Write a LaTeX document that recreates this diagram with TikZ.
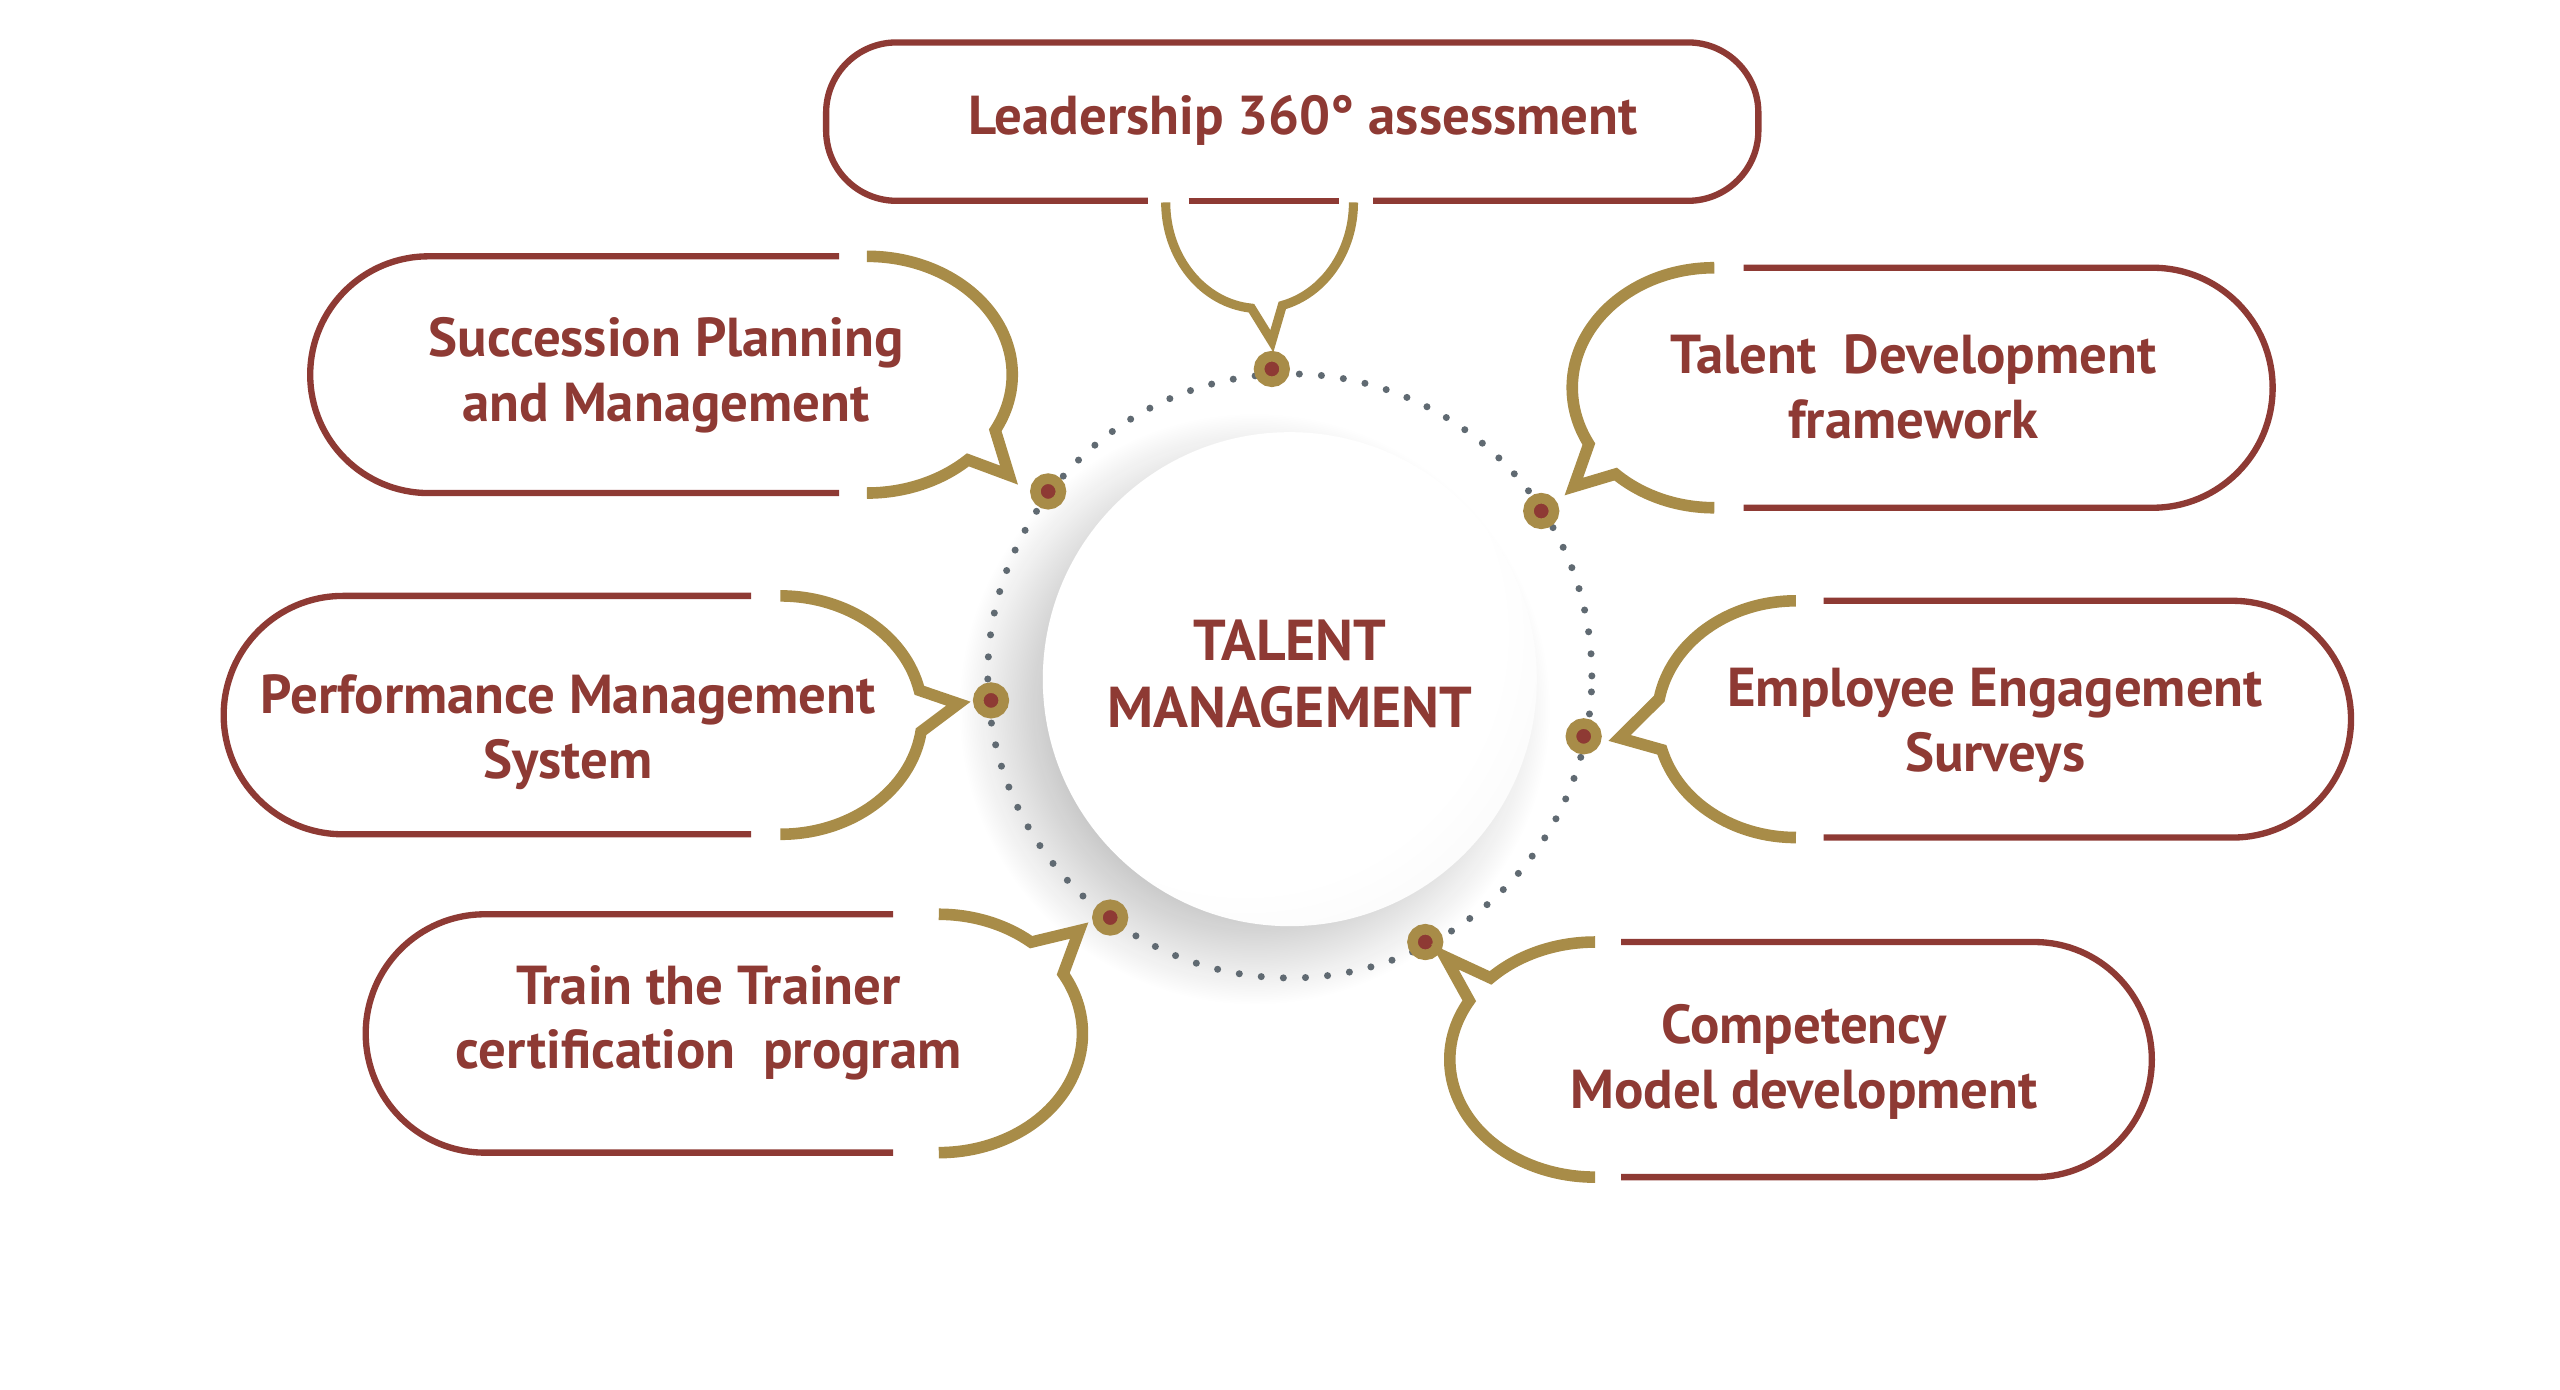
\documentclass[tikz,border=0pt]{standalone}
\usepackage{fontspec}
\setmainfont{PT Sans}
\usetikzlibrary{shadows.blur}

\definecolor{tmred}{RGB}{142,58,52}
\definecolor{tmgold}{RGB}{168,140,72}
\definecolor{tmdot}{RGB}{96,106,114}

\pgfdeclareradialshading{sphereshade}{\pgfpoint{-8bp}{8bp}}{%
  color(0bp)=(white); color(26bp)=(white); color(50bp)=(black!7); color(62bp)=(black!18)}

\begin{document}
\begin{tikzpicture}[
        x=0.016327cm, y=0.016327cm,
        redline/.style={draw=tmred, line width=1.8pt},
        goldline/.style={draw=tmgold, line width=3.3pt},
        bubbletext/.style={align=center, text=tmred, font=\bfseries\fontsize{15.6pt}{18.4pt}\selectfont},
        hub/.style={circle, minimum size=4.94cm, shading=sphereshade,
            blur shadow={shadow xshift=-0.35cm, shadow yshift=-0.3cm, shadow blur radius=0.5cm,
                shadow blur steps=30, shadow opacity=22}},
        hubtext/.style={align=center, text=tmred, font=\bfseries\fontsize{16.4pt}{19.2pt}\selectfont},
        dotring/.style={draw=tmdot, line width=2pt, line cap=round, dash pattern=on 0pt off 6.3pt},
        marker/.style={circle, fill=tmred, draw=tmgold, line width=3pt, inner sep=0pt, minimum size=0.256cm}
        ]
        \useasboundingbox (0,0) rectangle (1568,-850.8);

        % centre
        \node (hub) [hub] at (790,-416) {};
        \node (hubtxt) [hubtext] at (790,-413) {TALENT\\MANAGEMENT};
        \draw[dotring] (790,-414) circle[radius=185];

        % markers on the ring
        \node (mLead)  [marker] at (779,-226) {};
        \node (mSucc)  [marker] at (642,-301) {};
        \node (mPerf)  [marker] at (607,-429) {};
        \node (mTrain) [marker] at (680,-562) {};
        \node (mComp)  [marker] at (873,-577) {};
        \node (mEmp)   [marker] at (970,-451) {};
        \node (mTal)   [marker] at (944,-313) {};

        % top bubble
        \draw[redline, rounded corners=20] (703,-123) -- (506,-123) -- (506,-26) -- (1077,-26) -- (1077,-123) -- (841,-123);
        \draw[redline] (728,-123) -- (820,-123);
        \draw[goldline, line width=2.6pt] (714,-124) arc[start angle=180, end angle=265, x radius=57.5, y radius=65]
            -- (779,-209) -- ([shift={(771.5,-124)}]284:57.5 and 65) arc[start angle=284, end angle=360, x radius=57.5, y radius=65];
        \node (lead) [bubbletext] at (798,-74) {Leadership 360° assessment};

        % left bubbles
        \draw[redline] (514,-157) -- (262.5,-157) arc[start angle=90, end angle=270, radius=72.5] -- (514,-302);
        \draw[goldline] (531,-157) arc[start angle=90, end angle=-28, x radius=89, y radius=72.5]
            -- (618,-291) -- ([shift={(531,-229.5)}]-46:89 and 72.5) arc[start angle=-46, end angle=-90, x radius=89, y radius=72.5];
        \node (succ) [bubbletext] at (408,-230) {Succession Planning\\and Management};

        \draw[redline] (460,-365) -- (210,-365) arc[start angle=90, end angle=270, radius=73] -- (460,-511);
        \draw[goldline] (478,-365) arc[start angle=90, end angle=12, x radius=87, y radius=73]
            -- (587,-431) -- ([shift={(478,-438)}]-8:87 and 73) arc[start angle=-8, end angle=-90, x radius=87, y radius=73];
        \node (perf) [bubbletext] at (348,-448.5) {Performance Management\\System};

        \draw[redline] (547,-560) -- (297,-560) arc[start angle=90, end angle=270, radius=73] -- (547,-706);
        \draw[goldline] (575,-560) arc[start angle=90, end angle=50, x radius=88, y radius=73]
            -- (661,-570) -- ([shift={(575,-633)}]30:88 and 73) arc[start angle=30, end angle=-90, x radius=88, y radius=73];
        \node (train) [bubbletext] at (434,-626.5) {Train the Trainer\\certification\ \ program};

        % right bubbles
        \draw[redline] (1068,-164) -- (1318.5,-164) arc[start angle=90, end angle=-90, radius=73.5] -- (1068,-311);
        \draw[goldline] (1050,-164) arc[start angle=90, end angle=208, x radius=87, y radius=73.5]
            -- (964,-298) -- ([shift={(1050,-237.5)}]226:87 and 73.5) arc[start angle=226, end angle=270, x radius=87, y radius=73.5];
        \node (tal) [bubbletext] at (1172,-237) {Talent\ \ Development\\framework};

        \draw[redline] (1117,-368) -- (1367.5,-368) arc[start angle=90, end angle=-90, radius=72.5] -- (1117,-513);
        \draw[goldline] (1100,-368) arc[start angle=90, end angle=170, x radius=85, y radius=72.5]
            -- (992,-452) -- ([shift={(1100,-440.5)}]195:85 and 72.5) arc[start angle=195, end angle=270, x radius=85, y radius=72.5];
        \node (emp) [bubbletext] at (1222,-444.5) {Employee Engagement\\Surveys};

        \draw[redline] (993,-577) -- (1246,-577) arc[start angle=90, end angle=-90, radius=72] -- (993,-721);
        \draw[goldline] (977,-577) arc[start angle=90, end angle=136, x radius=89, y radius=72]
            -- (885,-586) -- ([shift={(977,-649)}]150:89 and 72) arc[start angle=150, end angle=270, x radius=89, y radius=72];
        \node (comp) [bubbletext] at (1105,-650.5) {Competency\\Model development};

    \end{tikzpicture}
\end{document}
